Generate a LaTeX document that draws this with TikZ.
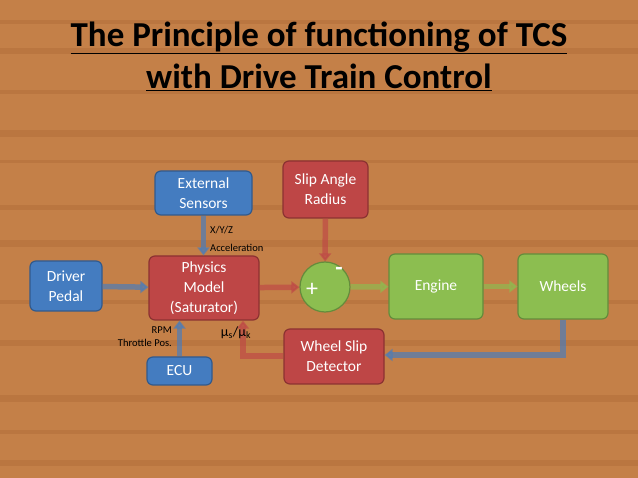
\documentclass[tikz,border=0pt]{standalone}
\usepackage{fontspec}
\setmainfont{Carlito}
\usetikzlibrary{arrows.meta}
\definecolor{wood}{RGB}{196,128,72}
\definecolor{wooddk}{RGB}{172,104,54}
\definecolor{bblue}{RGB}{68,124,192}
\definecolor{bblueb}{RGB}{50,90,140}
\definecolor{rred}{RGB}{190,70,70}
\definecolor{rredb}{RGB}{140,50,50}
\definecolor{ggreen}{RGB}{140,190,80}
\definecolor{ggreenb}{RGB}{100,140,60}
\begin{document}
\begin{tikzpicture}[x=1pt,y=-1pt,
  box/.style={draw,line width=1.2pt,rounded corners=6pt,text=white,align=center,font=\fontsize{15.5}{20}\selectfont,inner sep=0pt},
  bluebox/.style={box,fill=bblue,draw=bblueb},
  redbox/.style={box,fill=rred,draw=rredb},
  greenbox/.style={box,fill=ggreen,draw=ggreenb},
  conn/.style={line width=5.5pt,opacity=0.65,-{Triangle[length=8pt,width=12pt]}},
  lbl/.style={font=\fontsize{10.5}{12}\selectfont,inner sep=0pt}]
\fill[wood] (0,0) rectangle (638,478);
\foreach \y/\c in {20/12,48/20,90/15,130/25,160/10,205/18,240/22,300/14,340/20,395/25,430/15,460/20}
  \fill[wooddk,opacity=0.4] (0,\y) rectangle (638,\y+\c*0.3);
\node[font=\bfseries\fontsize{35}{42}\selectfont,align=center] (title) at (319,56)
  {\underline{The Principle of functioning of TCS}\\\underline{with Drive Train Control}};
\node[bluebox,minimum width=97pt,minimum height=44pt] (ext) at (203.5,193) {External\\Sensors};
\node[redbox,minimum width=85pt,minimum height=57pt] (slip) at (325.5,189.5) {Slip Angle\\Radius};
\node[bluebox,minimum width=72pt,minimum height=50pt] (drv) at (66,286) {Driver\\Pedal};
\node[redbox,minimum width=110pt,minimum height=64pt] (phy) at (204,288) {Physics\\Model\\(Saturator)};
\node[circle,fill=ggreen,draw=ggreenb,line width=1.2pt,minimum size=50pt] (sum) at (325,287) {};
\node[text=white,font=\fontsize{24}{24}\selectfont] (plus) at (312,290) {+};
\node[text=white,font=\bfseries\fontsize{24}{24}\selectfont] (minus) at (339,271) {-};
\node[greenbox,minimum width=94pt,minimum height=65pt] (eng) at (436,286.5) {Engine};
\node[greenbox,minimum width=90pt,minimum height=65pt] (whl) at (563,286.5) {Wheels};
\node[redbox,minimum width=100pt,minimum height=55pt] (wsd) at (334,356.5) {Wheel Slip\\Detector};
\node[bluebox,minimum width=65pt,minimum height=28pt] (ecu) at (179.5,371) {ECU};
\coordinate (c1) at (563,355);
\coordinate (c2) at (243,356);
\draw[conn,bblue] (ext) -- (ext|-phy.north);
\draw[conn,bblue] (drv) -- (phy);
\draw[conn,rred] (phy) -- (sum);
\draw[conn,rred] (slip) -- (sum);
\draw[conn,ggreen] (sum) -- (eng);
\draw[conn,ggreen] (eng) -- (whl);
\draw[conn,bblue] (whl.south) -- (c1) -- (wsd.east|-c1);
\draw[conn,rred] (wsd.west|-c2) -- (c2) -- (c2|-phy.south);
\draw[conn,bblue] (ecu) -- (ecu|-phy.south);
\node[lbl,anchor=west] (xyz) at (210,230) {X/Y/Z};
\node[lbl,anchor=west] (acc) at (210,248) {Acceleration};
\node[lbl,anchor=east] (rpm) at (172,330) {RPM};
\node[lbl,anchor=east] (thr) at (172,343) {Throttle Pos.};
\node[font=\fontsize{14}{16}\selectfont,inner sep=0pt] (mu) at (236,333) {μ\textsubscript{s}/μ\textsubscript{k}};
\end{tikzpicture}
\end{document}
